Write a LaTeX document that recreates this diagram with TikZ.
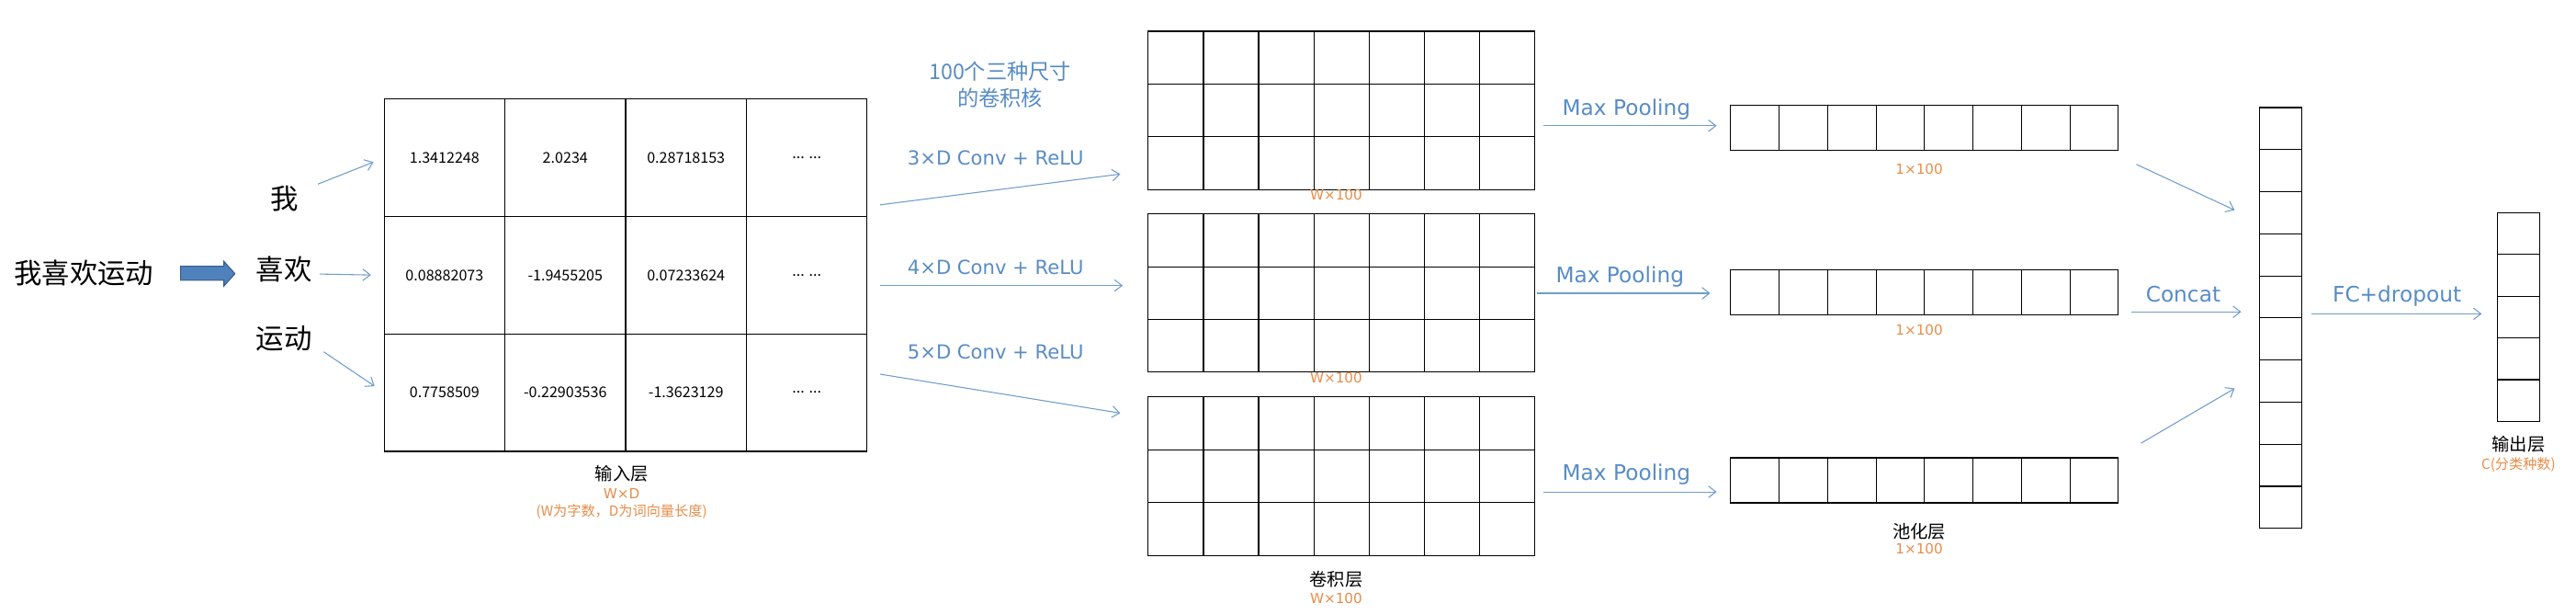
\documentclass[tikz,border=0pt]{standalone}
\usepackage{fontspec}
\setmainfont{Noto Sans CJK SC}
\newfontfamily\dejavu{DejaVu Sans}
\usepackage{tikz}
\usetikzlibrary{positioning,arrows.meta}
\usetikzlibrary{matrix}
\definecolor{opblue}{RGB}{88,140,196}
\definecolor{lineblue}{RGB}{112,157,203}
\definecolor{dimorange}{RGB}{231,140,72}
\definecolor{arrowfill}{RGB}{79,129,189}
\definecolor{arrowedge}{RGB}{56,93,138}
\tikzset{word/.style={inner sep=0pt,font=\fontsize{17}{20}\selectfont}}
\tikzset{layername/.style={inner sep=0pt,font=\fontsize{10.8}{12}\selectfont}}
\tikzset{dimtext/.style={inner sep=0pt,text=dimorange,font=\dejavu\fontsize{8.5}{10}\selectfont}}
\tikzset{notetext/.style={inner sep=0pt,text=dimorange,font=\fontsize{8.5}{10}\selectfont}}
\tikzset{optext/.style={inner sep=0pt,text=opblue,font=\dejavu\fontsize{13}{15}\selectfont}}
\tikzset{convtext/.style={inner sep=0pt,text=opblue,font=\dejavu\fontsize{11.8}{14}\selectfont}}
\tikzset{kerntext/.style={inner sep=0pt,text=opblue,font=\fontsize{13}{15}\selectfont}}
\tikzset{conn/.style={draw=lineblue,line width=0.6pt,-{Straight Barb[length=4.5pt,width=7pt]}}}
\tikzset{gridbase/.style={matrix of nodes,
        nodes in empty cells,
        inner sep=0pt,outer sep=0pt,
        row sep=-0.65pt,
        column sep=-0.65pt,
        anchor=north west,
        nodes={draw,line width=0.65pt,anchor=center,inner sep=0pt}}}
\tikzset{inputboard/.style={gridbase,nodes={minimum width=73.5pt,minimum height=71.4pt,font=\fontsize{9}{10}\selectfont}}}
\tikzset{convboard/.style={gridbase,nodes={minimum width=33.6pt,minimum height=32.1pt}}}
\tikzset{poolboard/.style={gridbase,nodes={minimum width=29.5pt,minimum height=27.4pt}}}
\tikzset{catboard/.style={gridbase,nodes={minimum width=25.7pt,minimum height=25.6pt}}}
\tikzset{outboard/.style={gridbase,nodes={minimum width=25.6pt,minimum height=25.4pt}}}

\begin{document}
\begin{tikzpicture}[x=1pt,y=-1pt]
    \useasboundingbox (0,0) rectangle (1568,374);
    % words
    \node[word] (sent) at (51,166) {我喜欢运动};
    \node[word] (wo) at (173,121) {我};
    \node[word] (xihuan) at (173,164) {喜欢};
    \node[word] (yundong) at (173,206) {运动};
    \draw[arrowedge,fill=arrowfill,line width=0.6pt] (110,162) -- (136.3,162) -- (136.3,159) -- (143,166.5)
        -- (136.3,174) -- (136.3,170.5) -- (110,170.5) -- cycle;

    % input layer
    \matrix (inmat) [inputboard] at (233.5,60) {
        1.3412248 & 2.0234 & 0.28718153 & ... ... \\
        0.08882073 & -1.9455205 & 0.07233624 & ... ... \\
        0.7758509 & -0.22903536 & -1.3623129 & ... ... \\
        };
    \node[layername] (inlab) at (378.4,288) {输入层};
    \node[dimtext] (inwd) at (378.4,300.4) {W×D};
    \node[notetext] (innote) at (378.4,311.3) {(W为字数，D为词向量长度)};
    \coordinate (wo-out) at (193.5,112);
    \coordinate (xh-out) at (194.5,166.7);
    \coordinate (yd-out) at (197,214);
    \draw[conn,shorten >=7pt] (wo-out) -- (inmat-1-1.west);
    \draw[conn,shorten >=8pt] (xh-out) -- (inmat-2-1.west);
    \draw[conn,shorten >=7pt] (yd-out) -- (inmat-3-1.west);

    % kernels
    \node[kerntext] (kern1) at (608.8,43.6) {100个三种尺寸};
    \node[kerntext] (kern2) at (608.8,59.6) {的卷积核};
    \node[convtext] (conv3) at (606,96) {3×D Conv + ReLU};
    \node[convtext] (conv4) at (606,162.5) {4×D Conv + ReLU};
    \node[convtext] (conv5) at (606,213.8) {5×D Conv + ReLU};

    % convolution layer
    \matrix (convA) [convboard] at (698.6,18.7) {
        &&&&&& \\
        &&&&&& \\
        &&&&&& \\
        };
    \matrix (convB) [convboard] at (698.6,129.8) {
        &&&&&& \\
        &&&&&& \\
        &&&&&& \\
        };
    \matrix (convC) [convboard] at (698.6,241.2) {
        &&&&&& \\
        &&&&&& \\
        &&&&&& \\
        };
    \node[dimtext] (wl1) at (813.3,118.4) {W×100};
    \node[dimtext] (wl2) at (813.3,229.8) {W×100};
    \node[layername] (convlab) at (813.3,352.3) {卷积层};
    \node[dimtext] (convdim) at (813.3,363.8) {W×100};
    \coordinate (k3-out) at (535.7,124.6);
    \coordinate (k4-out) at (535.7,173.7);
    \coordinate (k5-out) at (535.7,227.6);
    \coordinate (k3-in) at (681.9,105.9);
    \coordinate (k4-in) at (683.4,173.7);
    \coordinate (k5-in) at (681.9,251.3);
    \draw[conn] (k3-out) -- (k3-in);
    \draw[conn] (k4-out) -- (k4-in);
    \draw[conn] (k5-out) -- (k5-in);

    % pooling layer
    \node[optext] (mp1) at (990,66.5) {Max Pooling};
    \node[optext] (mp2) at (986,168.4) {Max Pooling};
    \node[optext] (mp3) at (990,288.8) {Max Pooling};
    \matrix (pool1) [poolboard] at (1053.1,63.5) {
        &&&&&&& \\
        };
    \matrix (pool2) [poolboard] at (1053.1,163.8) {
        &&&&&&& \\
        };
    \matrix (pool3) [poolboard] at (1053.1,278.2) {
        &&&&&&& \\
        };
    \node[dimtext] (pd1) at (1168.2,103) {1×100};
    \node[dimtext] (pd2) at (1168.2,200.9) {1×100};
    \node[layername] (poollab) at (1168.2,323.1) {池化层};
    \node[dimtext] (pooldim) at (1168.2,334.1) {1×100};
    \coordinate (mp1-out) at (939.5,76.5);
    \coordinate (mp2-out) at (935.6,178.4);
    \coordinate (mp3-out) at (939.5,299.2);
    \draw[conn] (mp1-out) -- (1044.9,76.5);
    \draw[conn] (mp2-out) -- (1041,178.4);
    \draw[conn] (mp3-out) -- (1044.9,299.2);

    % concat + output
    \matrix (catvec) [catboard] at (1374.8,65.1) {
        \\ \\ \\ \\ \\ \\ \\ \\ \\ \\
        };
    \matrix (outvec) [outboard] at (1520,129) {
        \\ \\ \\ \\ \\
        };
    \node[optext] (concatlab) at (1328.9,178.9) {Concat};
    \node[optext] (fclab) at (1459,180.3) {FC+dropout};
    \node[layername] (outlab) at (1533,270.2) {输出层};
    \node[notetext] (outdim) at (1533,282.8) {C(分类种数)};
    \coordinate (p1-out) at (1300.4,100);
    \coordinate (p3-out) at (1303.2,269.6);
    \coordinate (p2-out) at (1297.6,189.7);
    \coordinate (cat-out) at (1407,190.9);
    \draw[conn] (p1-out) -- (1360.2,127.8);
    \draw[conn] (p3-out) -- (1360.2,236.3);
    \draw[conn] (p2-out) -- (1364.2,189.7);
    \draw[conn] (cat-out) -- (1510.6,190.9);
\end{tikzpicture}
\end{document}
